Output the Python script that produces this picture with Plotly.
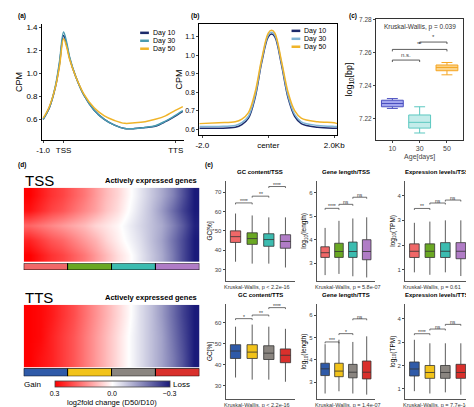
import plotly.graph_objects as go

W, H = 474, 407
FONT = "Liberation Sans"

# ---------- data ----------
a_x = [-1.0, -0.7, -0.4, -0.2, 0.0, 0.15, 0.3, 0.6, 1.0, 1.5, 2.0, 2.5, 3.0, 3.5, 4.0, 4.5, 5.0, 5.4, 5.85]
a_d10 = [0.60, 0.70, 0.88, 1.08, 1.33, 1.25, 1.13, 0.97, 0.81, 0.68, 0.60, 0.55, 0.52, 0.52, 0.53, 0.54, 0.58, 0.62, 0.67]
a_d30 = [0.60, 0.70, 0.89, 1.10, 1.36, 1.27, 1.14, 0.97, 0.81, 0.68, 0.60, 0.55, 0.52, 0.52, 0.53, 0.545, 0.585, 0.625, 0.675]
a_d50 = [0.61, 0.71, 0.88, 1.06, 1.30, 1.23, 1.12, 0.97, 0.82, 0.70, 0.63, 0.59, 0.565, 0.57, 0.58, 0.60, 0.63, 0.67, 0.71]

b_x = [-2.09, -1.5, -1.0, -0.8, -0.6, -0.4, -0.2, 0.0, 0.1, 0.2, 0.4, 0.6, 0.8, 1.0, 1.5, 2.0, 2.09]
b_d10 = [0.605, 0.605, 0.61, 0.625, 0.66, 0.77, 0.96, 1.10, 1.115, 1.10, 0.95, 0.77, 0.67, 0.63, 0.61, 0.605, 0.605]
b_d30 = [0.615, 0.615, 0.62, 0.635, 0.67, 0.78, 0.97, 1.11, 1.125, 1.11, 0.96, 0.78, 0.68, 0.64, 0.62, 0.615, 0.615]
b_d50 = [0.63, 0.635, 0.64, 0.655, 0.69, 0.80, 0.98, 1.12, 1.135, 1.12, 0.97, 0.80, 0.70, 0.66, 0.64, 0.635, 0.63]
days = ["Day 10", "Day 30", "Day 50"]

c_ages = ["10", "30", "50"]
c_q1 = [7.227, 7.214, 7.249]
c_med = [7.229, 7.2175, 7.251]
c_q3 = [7.231, 7.222, 7.2525]
c_lo = [7.226, 7.211, 7.2465]
c_hi = [7.232, 7.227, 7.254]
c_brackets = [(0, 1, 7.2555, "n.s."), (0, 2, 7.262, "**"), (1, 2, 7.2665, "*")]

# heatmap log2 fold change (D50/D10), columns left->right, row bands top->bottom
tss_rows = [
    [0.30, 0.27, 0.24, 0.22, 0.19, 0.16, 0.12, 0.08, 0.04, 0.01, -0.03, -0.07, -0.11, -0.17, -0.24, -0.30],
    [0.26, 0.23, 0.20, 0.18, 0.15, 0.12, 0.09, 0.05, 0.02, -0.01, -0.04, -0.08, -0.12, -0.18, -0.24, -0.30],
    [0.18, 0.16, 0.14, 0.12, 0.10, 0.08, 0.05, 0.03, 0.01, -0.02, -0.05, -0.08, -0.11, -0.16, -0.22, -0.29],
    [0.28, 0.25, 0.22, 0.20, 0.17, 0.14, 0.11, 0.07, 0.04, 0.00, -0.04, -0.08, -0.13, -0.19, -0.25, -0.30],
    [0.30, 0.27, 0.24, 0.22, 0.19, 0.16, 0.12, 0.08, 0.05, 0.01, -0.03, -0.07, -0.11, -0.16, -0.23, -0.30],
]
tts_rows = [
    [0.30, 0.28, 0.26, 0.23, 0.20, 0.16, 0.12, 0.08, 0.04, 0.00, -0.04, -0.08, -0.12, -0.17, -0.23, -0.30],
    [0.30, 0.29, 0.26, 0.23, 0.20, 0.16, 0.12, 0.08, 0.04, 0.00, -0.04, -0.08, -0.12, -0.18, -0.24, -0.30],
    [0.30, 0.29, 0.27, 0.24, 0.21, 0.17, 0.13, 0.09, 0.05, 0.01, -0.04, -0.08, -0.13, -0.19, -0.25, -0.30],
]
strip1_colors = ["#f06868", "#6aa823", "#3cbcb0", "#b07cc6"]
strip2_colors = ["#2f5aa8", "#f2c31a", "#8a8580", "#d9302c"]

e_panels = [
    dict(title="GC content/TSS", ytitle="GC[%]", kw="Kruskal-Wallis, p < 2.2e-16",
         q1=[44, 43, 42, 41], med=[47, 46, 45.5, 44.5], q3=[50, 49, 48.5, 48],
         lo=[34, 33, 33, 31], hi=[59, 58, 57, 57], rng=[24, 76], ticks=[30, 40, 50, 60, 70],
         br=[(0, 1, 64.5, "****"), (1, 2, 68, "**"), (2, 3, 73, "****")], colors=strip1_colors),
    dict(title="Gene length/TSS", ytitle="log<sub>10</sub>(length)", kw="Kruskal-Wallis, p = 5.8e-07",
         q1=[3.25, 3.25, 3.25, 3.15], med=[3.45, 3.5, 3.5, 3.5], q3=[3.7, 3.85, 3.9, 4.0],
         lo=[2.5, 2.55, 2.45, 2.4], hi=[4.5, 4.8, 4.9, 4.95], rng=[2.25, 6.5], ticks=[3, 4, 5, 6],
         br=[(0, 1, 5.33, "****"), (1, 2, 5.5, "ns"), (2, 3, 5.8, "ns")], colors=strip1_colors),
    dict(title="Expression levels/TSS", ytitle="log<sub>10</sub>(TPM)", kw="Kruskal-Wallis, p = 0.61",
         q1=[1.5, 1.5, 1.5, 1.45], med=[1.75, 1.75, 1.75, 1.75], q3=[2.05, 2.05, 2.1, 2.1],
         lo=[0.9, 0.8, 0.9, 0.75], hi=[2.9, 2.95, 3.0, 3.0], rng=[0.55, 4.6], ticks=[1, 2, 3, 4],
         br=[(0, 1, 3.48, "**"), (1, 2, 3.7, "ns"), (2, 3, 3.82, "ns")], colors=strip1_colors),
    dict(title="GC content/TTS", ytitle="GC[%]", kw="Kruskal-Wallis, p < 2.2e-16",
         q1=[43, 43, 42.5, 41], med=[46.5, 46, 45.5, 44.5], q3=[49.5, 49.5, 49, 47.5],
         lo=[34, 33, 33, 32], hi=[58, 59, 58, 57], rng=[23.8, 68.8], ticks=[30, 40, 50, 60],
         br=[(0, 1, 61.8, "*"), (1, 2, 63.5, "**"), (2, 3, 67, "****")], colors=strip2_colors),
    dict(title="Gene length/TTS", ytitle="log<sub>10</sub>(length)", kw="Kruskal-Wallis, p = 1.4e-07",
         q1=[3.3, 3.25, 3.2, 3.15], med=[3.6, 3.5, 3.45, 3.45], q3=[3.85, 3.85, 3.8, 3.95],
         lo=[2.5, 2.6, 2.5, 2.45], hi=[4.7, 4.9, 4.8, 5.05], rng=[2.25, 6.5], ticks=[3, 4, 5, 6],
         br=[(0, 1, 4.8, "***"), (1, 2, 5.17, "*"), (2, 3, 5.83, "ns")], colors=strip2_colors),
    dict(title="Expression levels/TTS", ytitle="log<sub>10</sub>(TPM)", kw="Kruskal-Wallis, p = 7.7e-14",
         q1=[1.55, 1.45, 1.45, 1.45], med=[1.85, 1.7, 1.7, 1.7], q3=[2.15, 2.0, 2.0, 2.05],
         lo=[0.9, 0.8, 0.85, 0.75], hi=[3.1, 2.95, 2.95, 2.95], rng=[0.56, 4.64], ticks=[1, 2, 3, 4],
         br=[(0, 1, 3.36, "****"), (1, 2, 3.56, "ns"), (2, 3, 3.76, "ns")], colors=strip2_colors),
]
# ---------- helpers ----------
def dx(l, r): return [l / W, r / W]
def dy(t, b): return [1 - b / H, 1 - t / H]

fig = go.Figure()
layout = dict(width=W, height=H, margin=dict(l=0, r=0, t=0, b=0), paper_bgcolor="white",
              plot_bgcolor="white", showlegend=False, font=dict(family=FONT, size=8, color="black"))
annots = []
shapes = []
def ann(text, x, y, size=7, xanchor="left", yanchor="middle", bold=False, color="black", **kw):
    if bold: text = "<b>" + text + "</b>"
    annots.append(dict(text=text, x=x / W, y=1 - y / H, xref="paper", yref="paper", showarrow=False,
                       xanchor=xanchor, yanchor=yanchor, font=dict(size=size, color=color, family=FONT), **kw))

def legend(x, y, cols):
    for k, (name, col) in enumerate(zip(days, cols)):
        yy = y + k * 8
        shapes.append(dict(type="line", xref="paper", yref="paper", x0=x / W, x1=(x + 9) / W,
                           y0=1 - yy / H, y1=1 - yy / H, line=dict(color=col, width=2.5)))
        ann(name, x + 11, yy, size=7)

axn = [0]
def new_axes(xd, yd, xa=None, ya=None):
    axn[0] += 1
    n = axn[0]
    s = "" if n == 1 else str(n)
    base = dict(showgrid=False, zeroline=False, ticks="outside", ticklen=2, tickfont=dict(size=7))
    xd_ = dict(base, domain=xd, anchor="y" + s); xd_.update(xa or {})
    yd_ = dict(base, domain=yd, anchor="x" + s); yd_.update(ya or {})
    layout["xaxis" + s] = xd_
    layout["yaxis" + s] = yd_
    return "x" + s, "y" + s

# ---------- (a) ----------
xa, ya = new_axes(dx(29, 175), dy(13, 130),
                  dict(range=[-1.05, 5.9], tickvals=[-1, 0, 5.5], ticktext=["-1.0", "TSS", "TTS"],
                       showline=True, linecolor="black", tickfont=dict(size=8)),
                  dict(range=[0.42, 1.43], tickvals=[0.6, 0.8, 1.0, 1.2, 1.4], ticktext=["0.6", "0.8", "1.0", "1.2", "1.4"],
                       showline=True, linecolor="black", tickfont=dict(size=8),
                       title=dict(text="CPM", font=dict(size=9), standoff=2)))
a_cols = ["#1c2a6b", "#4a9bb0", "#f0b429"]
for name, ys, col in zip(days, [a_d10, a_d30, a_d50], a_cols):
    fig.add_trace(go.Scatter(x=a_x, y=ys, mode="lines", line=dict(color=col, width=1.5, shape="spline"),
                             name=name, xaxis=xa, yaxis=ya))
legend(130, 22, a_cols)

# ---------- (b) ----------
xb, yb = new_axes(dx(191, 333), dy(13, 125),
                  dict(range=[-2.09, 2.09], tickvals=[-2, 0, 2], ticktext=["-2.0", "center", "2.0Kb"],
                       showline=True, mirror=True, linecolor="black", tickfont=dict(size=8)),
                  dict(range=[0.568, 1.17], tickvals=[0.6, 0.7, 0.8, 0.9, 1.0, 1.1],
                       ticktext=["0.6", "0.7", "0.8", "0.9", "1.0", "1.1"],
                       showline=True, mirror=True, linecolor="black", tickfont=dict(size=7),
                       title=dict(text="CPM", font=dict(size=9), standoff=1)))
b_cols = ["#1c2a6b", "#7fb4d6", "#f0b429"]
for name, ys, col in zip(days, [b_d10, b_d30, b_d50], b_cols):
    fig.add_trace(go.Scatter(x=b_x, y=ys, mode="lines", line=dict(color=col, width=1.5, shape="spline"),
                             name=name, xaxis=xb, yaxis=yb))
legend(286, 20, b_cols)

# ---------- (c) ----------
xc, yc = new_axes(dx(373, 463), dy(8, 130),
                  dict(range=[-0.6, 2.6], tickvals=[0, 1, 2], ticktext=c_ages, showline=True, mirror=True,
                       linecolor="#333", tickfont=dict(size=7, color="#444"),
                       title=dict(text="Age[days]", font=dict(size=7, color="#444"), standoff=2)),
                  dict(range=[7.2067, 7.2806], tickvals=[7.22, 7.24, 7.26, 7.28], ticktext=["7.22", "7.24", "7.26", "7.28"],
                       showline=True, mirror=True, linecolor="#333", tickfont=dict(size=6.5, color="#444"),
                       title=dict(text="log<sub>10</sub>[bp]", font=dict(size=9), standoff=4)))
c_line = ["#4a4fc0", "#5cc8c0", "#f5a623"]
c_fill = ["#a3a6ee", "#c4ecea", "#fbd38a"]
for i in range(3):
    fig.add_trace(go.Box(x=[i], q1=[c_q1[i]], median=[c_med[i]], q3=[c_q3[i]], lowerfence=[c_lo[i]],
                         upperfence=[c_hi[i]], fillcolor=c_fill[i], line=dict(color=c_line[i], width=1),
                         width=0.8, xaxis=xc, yaxis=yc, showlegend=False, boxpoints=False))
dtick_c = 0.0012
for i, j, yv, lab in c_brackets:
    fig.add_trace(go.Scatter(x=[i, i, j, j], y=[yv - dtick_c, yv, yv, yv - dtick_c], mode="lines",
                             line=dict(color="#333", width=0.8), xaxis=xc, yaxis=yc, showlegend=False))
    annots.append(dict(text=lab, x=(i + j) / 2, y=yv, xref=xc, yref=yc, showarrow=False, yanchor="bottom",
                       font=dict(size=6, color="#444", family=FONT)))
annots.append(dict(text="Kruskal-Wallis, p = 0.039", x=1, y=7.2795, xref=xc, yref=yc, showarrow=False,
                   yanchor="top", font=dict(size=6.5, color="#333", family=FONT)))

# ---------- (d) ----------
cs = [[0, "#ff0000"], [0.5, "#ffffff"], [1, "#1a1a7a"]]
for rows, (t, b), (st, sb), strip, lab in [(tss_rows, (178, 253), (254, 261), strip1_colors, "TSS"),
                                           (tts_rows, (296, 359), (360, 368), strip2_colors, "TTS")]:
    hx, hy = new_axes(dx(10, 191), dy(t, b), dict(visible=False), dict(visible=False))
    neg = [[-v for v in r] for r in rows]
    fig.add_trace(go.Heatmap(z=neg, colorscale=cs, zmin=-0.3, zmax=0.3, zsmooth="best", xaxis=hx, yaxis=hy,
                             showscale=(lab == "TSS"),
                             colorbar=dict(orientation="h", x=101 / W, xanchor="center", y=1 - 373 / H, yanchor="top",
                                           len=118 / W, thickness=6, tickvals=[-0.3, 0, 0.3],
                                           ticktext=["0.3", "0.0", "\u22120.3"], ticks="", outlinewidth=0.8,
                                           tickfont=dict(size=7), ypad=0, xpad=0)))
    sx, sy = new_axes(dx(10, 191), dy(st, sb), dict(visible=False, range=[-0.5, 3.5]), dict(visible=False, range=[0, 1]))
    fig.add_trace(go.Bar(x=[0, 1, 2, 3], y=[1, 1, 1, 1], width=1, marker=dict(color=strip, line=dict(color="black", width=1)),
                         xaxis=sx, yaxis=sy, showlegend=False))
    ann(lab, 9, t - 7, size=15)
    ann("Actively expressed genes", 191, t - 7, size=7.5, xanchor="right", bold=True)
ann("Gain", 8, 376, size=8)
ann("Loss", 162, 376, size=8)
ann("log2fold change (D50/D10)", 101, 394, size=7.5, xanchor="center")

# ---------- (e) ----------
cols_px = [(218, 290), (312, 372), (403, 470)]
rows_px = [(171, 272), (295, 391)]
for k, p in enumerate(e_panels):
    l, r = cols_px[k % 3]
    t, b = rows_px[k // 3]
    ex, ey = new_axes(dx(l, r), dy(t, b),
                      dict(range=[-0.6, 3.6], showticklabels=False, ticks="", showline=True, linecolor="#555"),
                      dict(range=p["rng"], tickvals=p["ticks"], ticktext=[str(v) for v in p["ticks"]], showline=True,
                           linecolor="#555", tickfont=dict(size=6, color="#444"),
                           title=dict(text=p["ytitle"], font=dict(size=6.5), standoff=1)))
    for i in range(4):
        fig.add_trace(go.Box(x=[i], q1=[p["q1"][i]], median=[p["med"][i]], q3=[p["q3"][i]], lowerfence=[p["lo"][i]],
                             upperfence=[p["hi"][i]], fillcolor=p["colors"][i], line=dict(color="#333", width=0.8),
                             width=0.62, whiskerwidth=0, xaxis=ex, yaxis=ey, showlegend=False, boxpoints=False))
    span = p["rng"][1] - p["rng"][0]
    for i, j, yv, lab in p["br"]:
        d = span * 0.015
        fig.add_trace(go.Scatter(x=[i, i, j, j], y=[yv - d, yv, yv, yv - d], mode="lines",
                                 line=dict(color="#333", width=0.7), xaxis=ex, yaxis=ey, showlegend=False))
        annots.append(dict(text=lab, x=(i + j) / 2, y=yv, xref=ex, yref=ey, showarrow=False, yanchor="bottom",
                           yshift=-3, font=dict(size=5, color="#333", family=FONT)))
    ann(p["title"], min((l + r) / 2, 472 - 36), t - 9, size=6, xanchor="center", bold=True)
    ann(p["kw"], l - 4, b + 6, size=5.5, color="#333")

for lab, x, y in [("(a)", 2, 5), ("(b)", 180, 5), ("(c)", 343, 5), ("(d)", 2, 155), ("(e)", 195, 155)]:
    ann(lab, x, y, size=6.5, bold=True)

layout["annotations"] = annots
layout["shapes"] = shapes
fig.update_layout(**layout)
fig.write_html("out.html")
